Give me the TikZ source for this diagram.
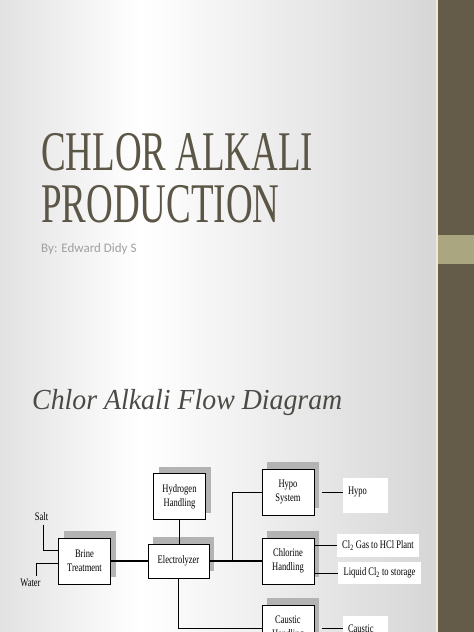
\documentclass[tikz,border=0pt]{standalone}
\usepackage{fontspec}
\usetikzlibrary{shadows}
\newfontfamily\titlefont[FakeStretch=0.66]{Liberation Serif}
\newfontfamily\headfont[FakeStretch=0.96]{Liberation Serif}
\newfontfamily\boxfont[FakeStretch=0.74]{Liberation Serif}
\newfontfamily\byfont{Carlito}
\definecolor{slidebrown}{HTML}{645C48}
\definecolor{slidekhaki}{HTML}{AAA680}
\definecolor{barline}{HTML}{EEE9DD}
\definecolor{bgedge}{HTML}{E2E2E2}
\definecolor{bgright}{HTML}{D6D6D6}
\definecolor{titlecol}{HTML}{5C5646}
\definecolor{headcol}{HTML}{4B4A44}
\definecolor{bygrey}{HTML}{A0A0A0}
\definecolor{shadowgrey}{HTML}{B3B3B3}
\begin{document}
\begin{tikzpicture}[x=1pt, y=-1pt,
  unit/.style={draw, fill=white, line width=.8pt, minimum width=52pt, minimum height=46pt,
    inner sep=1pt, align=center, font=\boxfont\fontsize{11.5}{14}\selectfont,
    drop shadow={shadow xshift=5pt, shadow yshift=7pt, fill=shadowgrey, opacity=1}},
  tag/.style={fill=white, inner xsep=5pt, inner ysep=0pt,
    font=\boxfont\fontsize{11.5}{13}\selectfont},
  feed/.style={font=\boxfont\fontsize{11.5}{13}\selectfont},
  pipe/.style={line width=.8pt},
  mainpipe/.style={line width=1.6pt}]
\clip (0,0) rectangle (474,632);
\shade[left color=bgedge, right color=white] (0,0) rectangle (140,632);
\shade[left color=white, right color=bgright] (140,0) rectangle (437,632);
\fill[slidebrown] (438,0) rectangle (474,632);
\fill[slidekhaki] (438,235) rectangle (474,264);
\draw[barline, line width=1.5pt] (437,0) -- (437,632);

\node[anchor=base west, inner sep=0, text=titlecol, font=\titlefont\fontsize{56}{60}\selectfont] (title1) at (41,170) {CHLOR ALKALI};
\node[anchor=base west, inner sep=0, text=titlecol, font=\titlefont\fontsize{56}{60}\selectfont] (title2) at (41,222) {PRODUCTION};
\node[anchor=base west, inner sep=0, text=bygrey, font=\byfont\fontsize{13}{15}\selectfont] (author) at (41,252) {By: Edward Didy S};
\node[anchor=base west, inner sep=0, text=headcol, font=\headfont\itshape\fontsize{29}{32}\selectfont] (heading) at (32,409) {Chlor Alkali Flow Diagram};

\node[unit] (hydrogen) at (179.5,496.5) {Hydrogen\\Handling};
\node[unit] (hyposys) at (288,492) {Hypo\\System};
\node[unit] (brine) at (84.5,561) {Brine\\Treatment};
\node[unit, minimum width=61pt, minimum height=34pt] (electro) at (178.5,561) {Electrolyzer};
\node[unit] (chlorine) at (288,561) {Chlorine\\Handling};
\node[unit] (caustic) at (288,628) {Caustic\\Handling};

\node[tag, text width=35pt, align=left, minimum height=35pt, text depth=10pt] (hypo) at (365.5,495.5) {Hypo};
\node[tag, minimum width=82pt, minimum height=23pt] (gas) at (378,545.5) {Cl\textsubscript{2} Gas to HCl Plant};
\node[tag, minimum width=83pt, minimum height=22pt] (liquid) at (379.5,573) {Liquid Cl\textsubscript{2} to storage};
\node[tag, text width=35pt, align=left, minimum height=35pt, text depth=10pt] (causticout) at (365.5,633.5) {Caustic};

\node[feed] (salt) at (41.5,517) {Salt};
\node[feed] (water) at (30.5,583) {Water};

\draw[mainpipe] (brine) -- (electro);
\draw[mainpipe] (electro) -- (chlorine);
\coordinate (split) at (232,561);
\draw[pipe] (split) |- (hyposys.west);
\draw[pipe] (hydrogen.south) -- (hydrogen.south |- electro.north);
\draw[pipe] (electro.south) |- (caustic.west);
\draw[pipe] ([xshift=8pt]hyposys.east) -- (hyposys.east -| hypo.west);
\draw[mainpipe] (gas.west -| chlorine.east) -- (gas.west);
\draw[pipe] (liquid.west -| chlorine.east) -- (liquid.west);
\draw[pipe] ([xshift=8pt]caustic.east) -- (caustic.east -| causticout.west);
\draw[pipe] ([xshift=1.5pt]salt.south) |- ([yshift=11pt]brine.west);
\draw[pipe] ([xshift=5.5pt]water.north) |- ([yshift=-2pt]brine.west);
\end{tikzpicture}
\end{document}
